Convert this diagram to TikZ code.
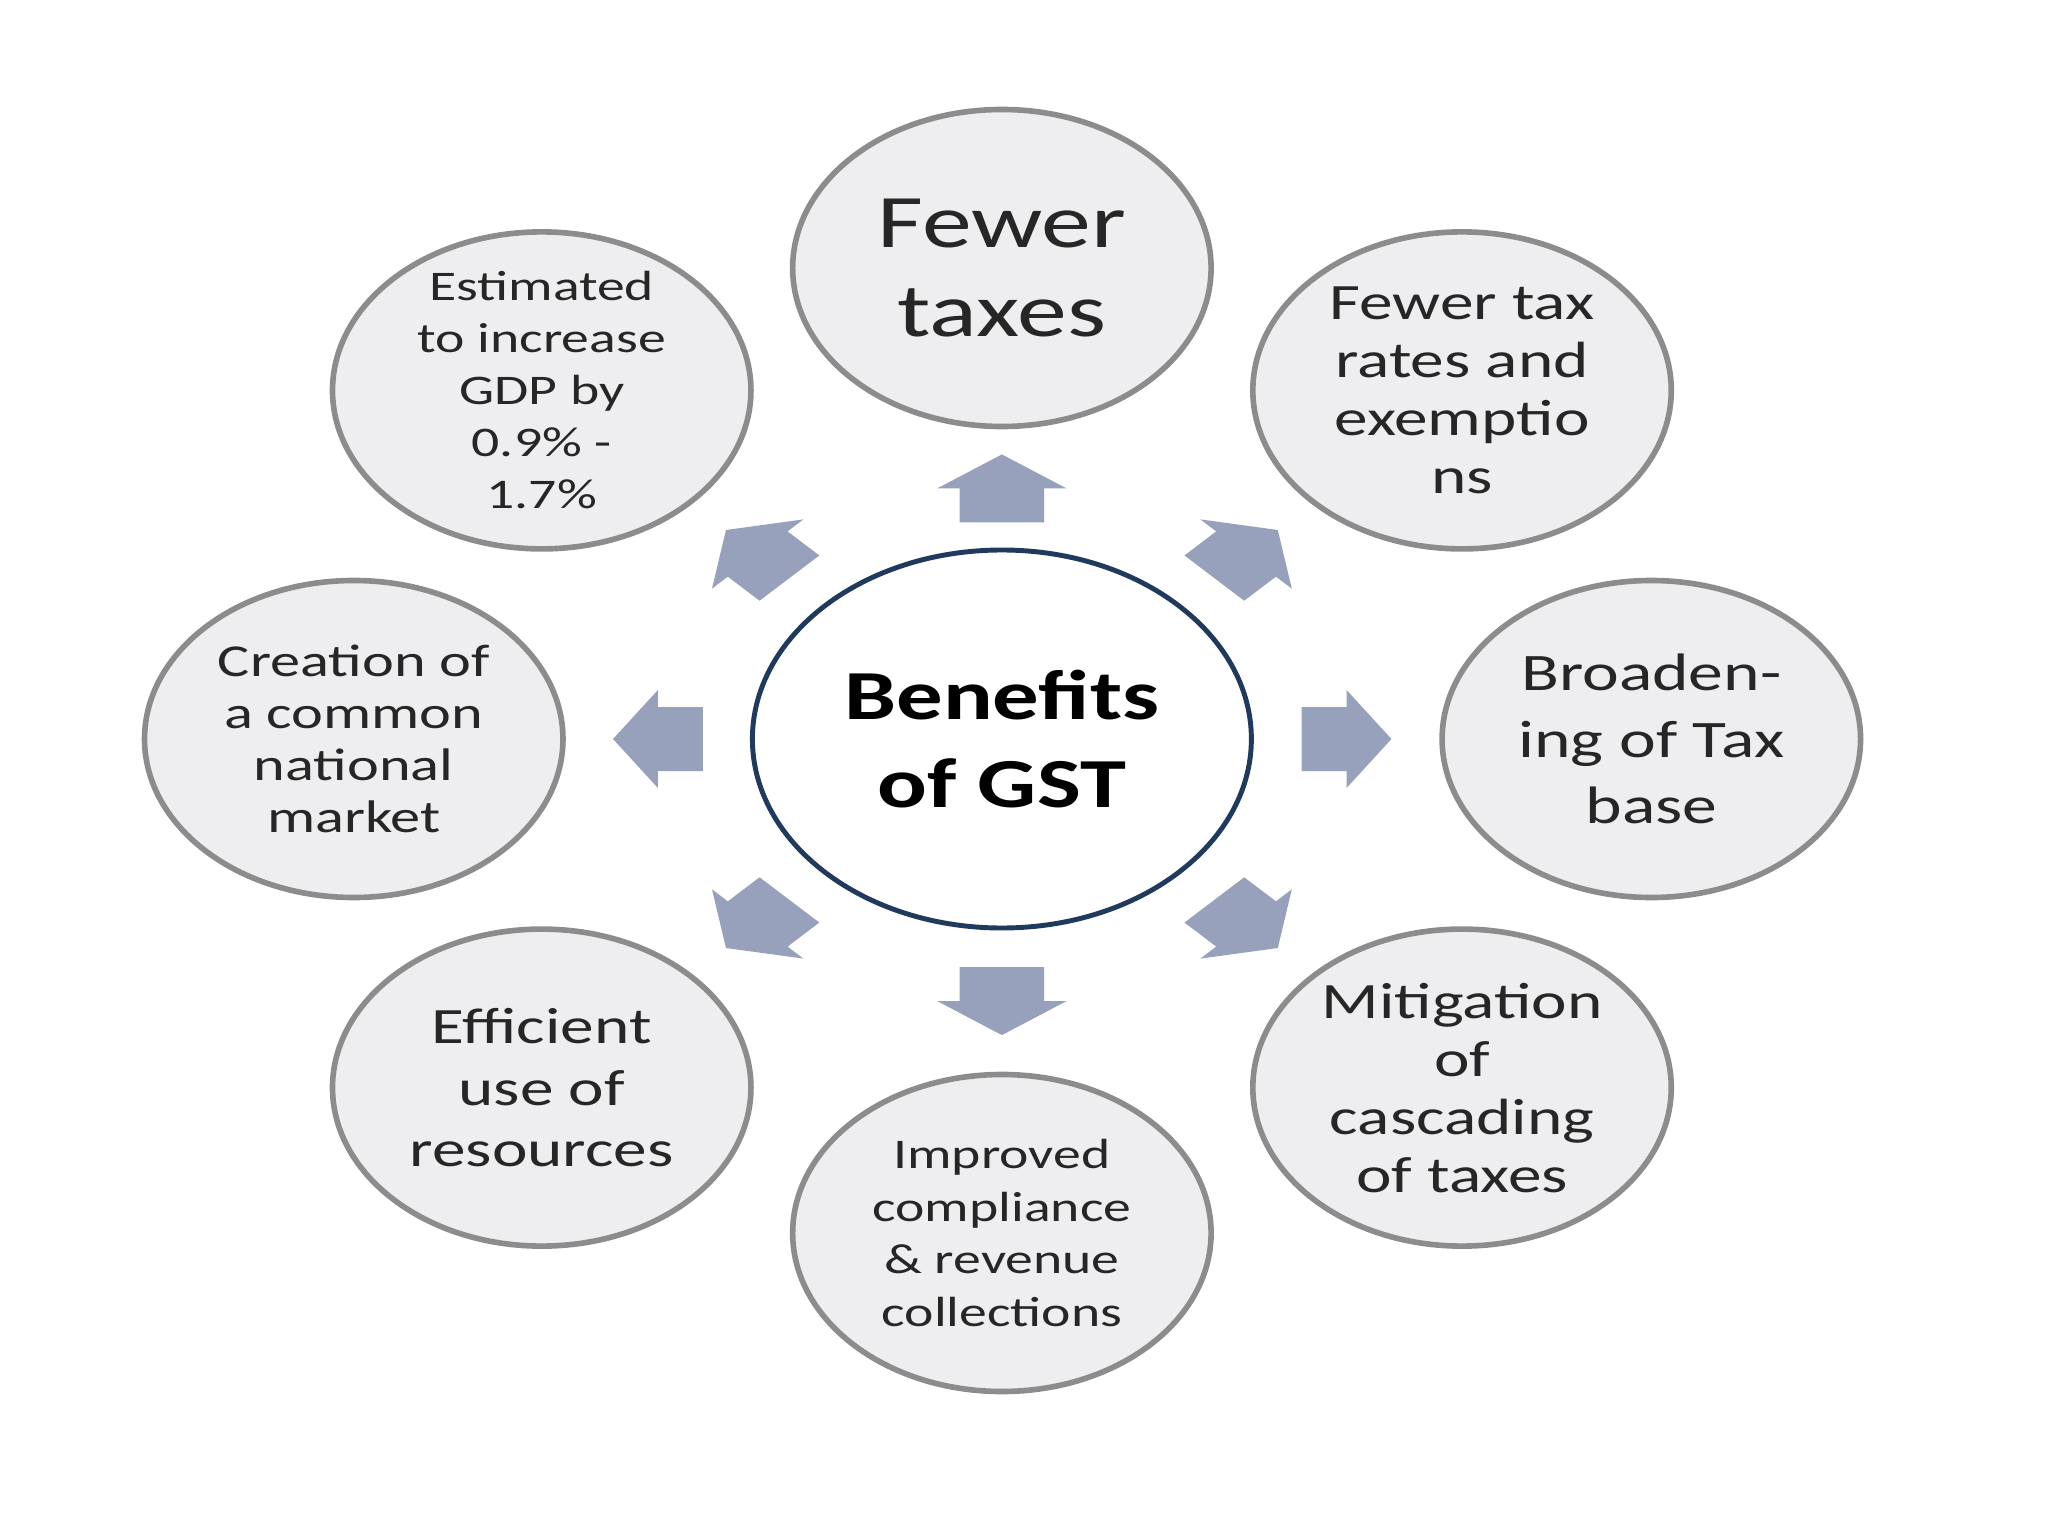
\documentclass[tikz,border=0pt]{standalone}
\usepackage{fontspec}
\setmainfont{Carlito}
\usetikzlibrary{calc}
\definecolor{ringgrey}{HTML}{8C8C8C}
\definecolor{bubblefill}{HTML}{EEEEF0}
\definecolor{hubblue}{HTML}{1F3A5C}
\definecolor{arrowgrey}{HTML}{97A1BB}
\begin{document}
\begin{tikzpicture}[xscale=1.32, transform shape,
    benefit/.style={circle, draw=ringgrey, line width=1.6pt, fill=bubblefill,
      minimum size=3.17cm, inner sep=0pt, align=center, text=black!85},
    hub/.style={circle, draw=hubblue, line width=1.4pt, fill=white,
      minimum size=3.78cm, inner sep=0pt, align=center,
      font=\fontsize{20}{24.8}\selectfont\bfseries},
    gstarrow/.pic={\fill[arrowgrey] (-0.34,-0.32) -- (0,-0.32) -- (0,-0.49)
      -- (0.34,0) -- (0,0.49) -- (0,0.32) -- (-0.34,0.32) -- cycle;}]
      \useasboundingbox (-7.59,-7.97) rectangle (7.925,7.39);
      \node[hub] (gst) at (0,0) {Benefits\\of GST};
      \draw
        (90:4.71) node[benefit, font=\fontsize{21.5}{25.3}\selectfont] (fewer) {Fewer\\taxes}
        (45:4.93) node[benefit, font=\fontsize{14.5}{16.5}\selectfont] (rates) {Fewer tax\\rates and\\exemptio\\ns}
        (0:4.92) node[benefit, font=\fontsize{15}{19}\selectfont] (base) {Broaden-\\ing of Tax\\base}
        (-45:4.93) node[benefit, font=\fontsize{14.5}{16.5}\selectfont] (cascade) {Mitigation\\of\\cascading\\of taxes}
        (-90:4.94) node[benefit, font=\fontsize{12}{15}\selectfont] (compliance) {Improved\\compliance\\\& revenue\\collections}
        (-135:4.93) node[benefit, font=\fontsize{14.5}{17.4}\selectfont] (resources) {Efficient\\use of\\resources}
        (180:4.91) node[benefit, font=\fontsize{13}{14.8}\selectfont] (market) {Creation of\\a common\\national\\market}
        (135:4.93) node[benefit, font=\fontsize{12}{14.8}\selectfont] (gdp) {Estimated\\to increase\\GDP by\\0.9\% -\\1.7\%};
      \pic[rotate=90] at ($(gst.90)!0.5!(fewer.270)$) {gstarrow};
      \pic[rotate=45] at ($(gst.45)!0.5!(rates.225)$) {gstarrow};
      \pic[rotate=0] at ($(gst.0)!0.5!(base.180)$) {gstarrow};
      \pic[rotate=-45] at ($(gst.-45)!0.5!(cascade.135)$) {gstarrow};
      \pic[rotate=-90] at ($(gst.-90)!0.5!(compliance.90)$) {gstarrow};
      \pic[rotate=-135] at ($(gst.-135)!0.5!(resources.45)$) {gstarrow};
      \pic[rotate=180] at ($(gst.180)!0.5!(market.0)$) {gstarrow};
      \pic[rotate=135] at ($(gst.135)!0.5!(gdp.-45)$) {gstarrow};
    \end{tikzpicture}
\end{document}
